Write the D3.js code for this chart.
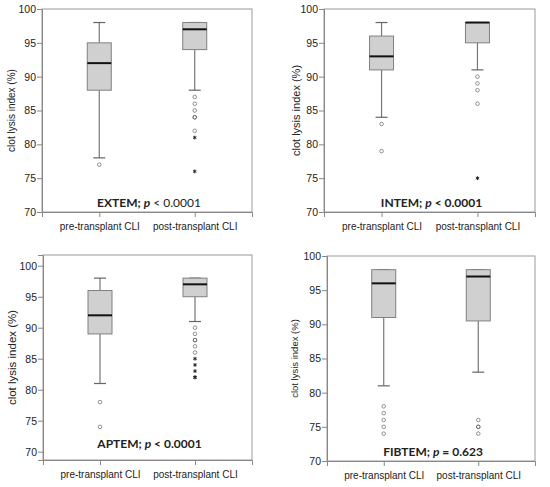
<!DOCTYPE html>
<html>
<head>
<meta charset="utf-8">
<script src="https://cdn.jsdelivr.net/npm/d3@7"></script>
<style>
  body { margin: 0; background: #fff; }
  svg { display: block; }
  text { font-family: "Liberation Sans", Arial, sans-serif; fill: #222; }
  .note { font-family: Lato, "Open Sans", sans-serif; font-size: 12px; }
</style>
</head>
<body>
<svg id="chart" width="550" height="487"></svg>
<script>
// groups and axis ticks
const groups = ['pre-transplant CLI', 'post-transplant CLI'];
const yTicks = [70, 75, 80, 85, 90, 95, 100];
const tests = ['EXTEM', 'INTEM', 'APTEM', 'FIBTEM'];
const pTexts = ['< 0.0001', '< 0.0001', '< 0.0001', '= 0.623'];

// box stats per group: [low whisker, q1, median, q3, high whisker]
const extemBoxes = [[78, 88, 92, 95, 98], [88, 94, 97, 98, 98]];
const intemBoxes = [[84, 91, 93, 96, 98], [91, 95, 98, 98, 98]];
const aptemBoxes = [[81, 89, 92, 96, 98], [91, 95, 97, 98, 98]];
const fibtemBoxes = [[81, 91, 96, 98, 98], [83, 90.5, 97, 98, 98]];

// outliers (circles) and extremes (stars) per group
const extemOut = [[77], [87, 86, 85, 84, 84, 82]];
const extemExt = [[], [81, 76]];
const intemOut = [[83, 79], [90, 89, 88, 86]];
const intemExt = [[], [75]];
const aptemOut = [[78, 74], [90, 89, 88, 88, 87, 86]];
const aptemExt = [[], [85, 84, 83, 82, 82]];
const fibtemOut = [[78, 77, 76, 75, 74], [76, 75, 75, 74]];
const fibtemExt = [[], []];

const boxes = [extemBoxes, intemBoxes, aptemBoxes, fibtemBoxes];
const outs = [extemOut, intemOut, aptemOut, fibtemOut];
const exts = [extemExt, intemExt, aptemExt, fibtemExt];

// panel frames (layout only)
const frames = [
  { l: 42, r: 252, t: 9, b: 212, dom: [70, 100], yl: 12, lfs: 10 },
  { l: 324, r: 535, t: 9, b: 212, dom: [70, 100], yl: 297, lfs: 11 },
  { l: 43, r: 252, t: 255, b: 460, dom: [68.66, 101.73], yl: 13, lfs: 11.5 },
  { l: 327, r: 535, t: 256, b: 461, dom: [70, 100], yl: 295, lfs: 9.5 }
];

const svg = d3.select('#chart');
const boxW = 24, capW = 12;

function drawPanel(i) {
  const f = frames[i];
  const g = svg.append('g');
  const y = d3.scaleLinear().domain(f.dom).range([f.b, f.t]);
  const x = d3.scalePoint().domain(groups).range([f.l, f.r]).padding(0.6);

  // frame
  g.append('rect')
    .attr('x', f.l).attr('y', f.t)
    .attr('width', f.r - f.l).attr('height', f.b - f.t)
    .attr('fill', 'none').attr('stroke', '#9a9a9a').attr('stroke-width', 1);

  const ya = g.append('g')
    .attr('transform', `translate(${f.l},0)`)
    .call(d3.axisLeft(y).tickValues(yTicks).tickSize(5).tickPadding(1));
  ya.select('.domain').attr('stroke', '#888');
  ya.selectAll('line').attr('stroke', '#888');
  ya.selectAll('text').attr('font-size', 10.5).attr('fill', '#222');

  const xa = g.append('g')
    .attr('transform', `translate(0,${f.b})`)
    .call(d3.axisBottom(x).tickSize(5).tickPadding(6));
  xa.select('.domain').attr('stroke', '#888');
  xa.selectAll('line').attr('stroke', '#888');
  xa.selectAll('text').attr('font-size', 10).attr('fill', '#222');

  g.append('text')
    .attr('transform', `translate(${f.yl},${(f.t + f.b) / 2}) rotate(-90)`)
    .attr('text-anchor', 'middle')
    .attr('dominant-baseline', 'middle')
    .attr('font-size', f.lfs)
    .text('clot lysis index (%)');

  groups.forEach((grp, k) => {
    const [lo, q1, med, q3, hi] = boxes[i][k];
    const cx = x(grp);
    const bg = g.append('g');
    bg.append('line')
      .attr('x1', cx).attr('x2', cx).attr('y1', y(lo)).attr('y2', y(q1))
      .attr('stroke', '#777').attr('stroke-width', 1.2);
    bg.append('line')
      .attr('x1', cx).attr('x2', cx).attr('y1', y(hi)).attr('y2', y(q3))
      .attr('stroke', '#777').attr('stroke-width', 1.2);
    [lo, hi].forEach(v => {
      bg.append('line')
        .attr('x1', cx - capW / 2).attr('x2', cx + capW / 2)
        .attr('y1', y(v)).attr('y2', y(v))
        .attr('stroke', '#666').attr('stroke-width', 1.2);
    });
    bg.append('rect')
      .attr('x', cx - boxW / 2).attr('y', y(q3))
      .attr('width', boxW).attr('height', y(q1) - y(q3))
      .attr('fill', '#d0d0d0').attr('stroke', '#808080').attr('stroke-width', 1);
    bg.append('line')
      .attr('x1', cx - boxW / 2).attr('x2', cx + boxW / 2)
      .attr('y1', y(med)).attr('y2', y(med))
      .attr('stroke', '#111').attr('stroke-width', 2);

    bg.selectAll('circle.o').data(outs[i][k]).join('circle')
      .attr('class', 'o')
      .attr('cx', cx).attr('cy', d => y(d)).attr('r', 1.8)
      .attr('fill', 'none').attr('stroke', '#555').attr('stroke-opacity', 0.7)
      .attr('stroke-width', 0.9);
    bg.selectAll('path.e').data(exts[i][k]).join('path')
      .attr('class', 'e')
      .attr('transform', d => `translate(${cx},${y(d)})`)
      .attr('d', d3.symbol(d3.symbolAsterisk, 10))
      .attr('fill', 'none').attr('stroke', '#222').attr('stroke-width', 1);
  });

  const note = g.append('text')
    .attr('class', 'note')
    .attr('x', (f.l + f.r) / 2 + 2)
    .attr('y', y(71.3) + 4)
    .attr('text-anchor', 'middle');
  note.append('tspan').attr('font-weight', 'bold').text(tests[i] + '; ');
  note.append('tspan').attr('font-weight', 'bold').attr('font-style', 'italic').text('p');
  note.append('tspan').attr('font-weight', i === 0 ? 'normal' : 'bold').text(' ' + pTexts[i]);
}

tests.forEach((t, i) => drawPanel(i));
</script>
</body>
</html>
